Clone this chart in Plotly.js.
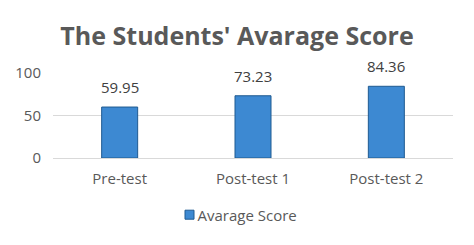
<!DOCTYPE html>
<html><head><meta charset="utf-8">
<script src="https://cdn.plot.ly/plotly-3.0.1.min.js"></script>
<style>html,body{margin:0;padding:0;background:#fff;}#chart{width:474px;height:245px;}</style>
</head><body><div id="chart"></div>
<script>
const categories = ["Pre-test", "Post-test 1", "Post-test 2"];
const scores = [59.95, 73.23, 84.36];
const scoreLabels = ["59.95", "73.23", "84.36"];
const seriesName = "Avarage Score";
const yTicks = [0, 50, 100];

const font = "Open Sans, Noto Sans, sans-serif";
const barColor = "#3d89d2";
Plotly.newPlot("chart", [{
  type: "bar",
  x: categories,
  y: scores,
  name: seriesName,
  marker: {color: barColor, line: {color: "#1f5a91", width: 1}},
  showlegend: false
}, {
  type: "scatter",
  mode: "markers",
  x: [null], y: [null],
  name: seriesName,
  marker: {symbol: "square", size: 9, color: barColor, line: {color: "#1f5a91", width: 1}},
  showlegend: true
}], {
  width: 474, height: 245,
  margin: {l: 53, r: 21, t: 73, b: 87},
  paper_bgcolor: "#fff", plot_bgcolor: "#fff",
  title: {text: "The Students' Avarage Score", x: 0.5, xanchor: "center", y: 0.853, yanchor: "middle",
          font: {family: font, size: 25, color: "#595959", weight: "bold"}},
  bargap: 0.73,
  xaxis: {tickfont: {family: font, size: 15, color: "#595959"}, showline: false, ticks: "outside", ticklen: 7, tickcolor: "rgba(0,0,0,0)"},
  yaxis: {range: [0, 100], tickvals: yTicks, tickfont: {family: font, size: 15, color: "#595959"},
          gridcolor: "#d9d9d9", gridwidth: 1, zeroline: true, zerolinecolor: "#d9d9d9", ticks: "outside", ticklen: 8, tickcolor: "rgba(0,0,0,0)"},
  legend: {orientation: "h", x: 0.4425, xanchor: "center", y: -0.67, yanchor: "middle",
           font: {family: font, size: 15, color: "#595959"}},
  annotations: categories.map((c, i) => ({
    x: c, y: scores[i], xref: "x", yref: "y", text: scoreLabels[i], showarrow: false,
    yanchor: "bottom", yshift: 8, font: {family: font, size: 15, color: "#404040"}
  }))
}, {displayModeBar: false, staticPlot: true}).then(gd => {
  gd.querySelectorAll(".legend .legendsymbols").forEach(s => s.setAttribute("transform", "translate(12,0)"));
});
</script></body></html>
